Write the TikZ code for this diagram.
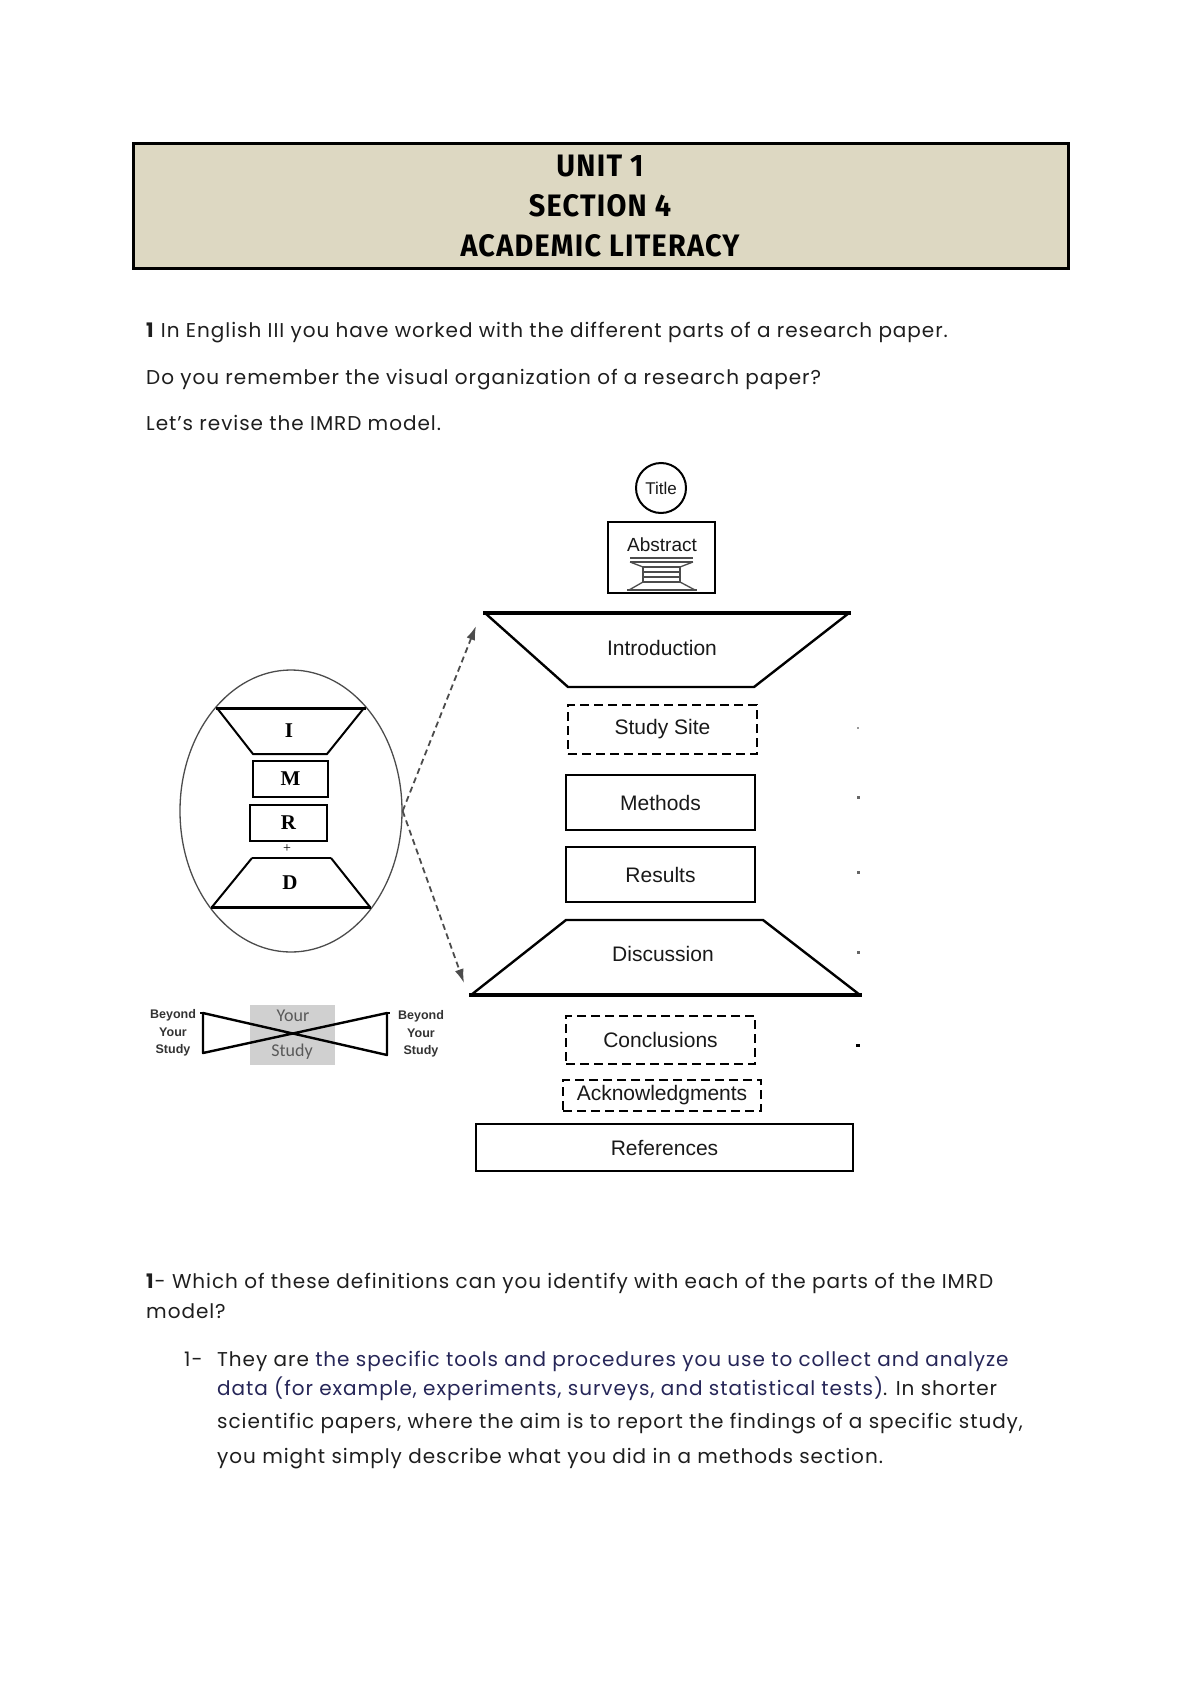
\documentclass[tikz,border=0pt]{standalone}
\usepackage{fontspec}
\setmainfont{Poppins}[LetterSpace=4.8]
\newfontfamily\dgfont{Liberation Sans}
\newfontfamily\hdfont[FakeStretch=0.93,LetterSpace=4]{Fira Sans}
\newfontfamily\sefont{Liberation Serif}
\newfontfamily\cafont{Carlito}
\usetikzlibrary{shapes.geometric,arrows.meta}
\definecolor{headfill}{RGB}{221,216,194}
\definecolor{navy}{RGB}{38,38,88}
\definecolor{ink}{RGB}{30,30,30}
\definecolor{shade}{RGB}{208,208,208}
\tikzset{
  body/.style={anchor=base west, inner sep=0pt, text=ink, font=\fontsize{20}{24}\selectfont},
  hd/.style={inner sep=0pt, font=\hdfont\bfseries\fontsize{31}{36}\selectfont},
  dg/.style={inner sep=0pt, text=black!90, font=\dgfont\fontsize{21}{25}\selectfont},
  solidbox/.style={draw, line width=2.6pt, inner sep=0pt},
  dashbox/.style={draw, line width=2.4pt, dash pattern=on 9pt off 5pt, inner sep=0pt},
  edge/.style={line width=2.4pt, line join=round},
  thickedge/.style={line width=3.8pt},
  ltr/.style={inner sep=0pt, font=\sefont\bfseries\fontsize{21}{25}\selectfont},
  arr/.style={line width=1.8pt, black!70, dash pattern=on 6pt off 4pt, -{Latex[length=14pt,width=9pt]}},
  small/.style={inner sep=0pt, align=center, text=black!80, font=\dgfont\bfseries\fontsize{12.5}{17.5}\selectfont},
  yours/.style={inner sep=0pt, text=black!65, font=\cafont\fontsize{18}{20}\selectfont},
  speck/.style={fill=black!60, inner sep=0pt, minimum size=3pt}
}
\begin{document}
\begin{tikzpicture}[x=1pt,y=-1pt]
\useasboundingbox (0,0) rectangle (1200,1696);
\fill[white] (0,0) rectangle (1200,1696);

% header
\node[draw, line width=3pt, fill=headfill, minimum width=935pt, minimum height=124pt] (hdr) at (600.5,206) {};
\node[hd] (h1) at (600,166) {UNIT 1};
\node[hd] (h2) at (600,206) {SECTION 4};
\node[hd] (h3) at (600,246) {ACADEMIC LITERACY};

% intro text
\node[body] (t1) at (146,337) {\textbf{1} In English III you have worked with the different parts of a research paper.};
\node[body] (t2) at (146,384) {Do you remember the visual organization of a research paper?};
\node[body] (t3) at (146,430) {Let’s revise the IMRD model.};

% title & abstract
\node[draw, circle, line width=2pt, minimum size=50pt, inner sep=0pt, dg, font=\dgfont\fontsize{17}{20}\selectfont] (title) at (661,488) {Title};
\node[solidbox, line width=2.4pt, minimum width=107pt, minimum height=71pt] (abs) at (661.5,557.5) {};
\node[dg, font=\dgfont\fontsize{19}{22}\selectfont] (abst) at (662,545) {Abstract};
\begin{scope}[line width=1.3pt, black!70]
  \draw (630,558) -- (693,558);
  \draw (630,562) -- (693,562);
  \draw (630,562) -- (643,567) (693,562) -- (680,567);
  \draw (643,567) rectangle (680,582);
  \draw (643,572) -- (680,572) (643,577) -- (680,577);
  \draw (643,582) -- (629,590) (680,582) -- (695,590);
  \draw (627,590) -- (697,590);
\end{scope}

% Introduction trapezoid
\draw[edge] (485,613) -- (568,687) -- (754,687) -- (849,613);
\draw[thickedge] (483,613) -- (851,613);
\node[dg] (intro) at (662,648) {Introduction};

% boxes
\node[dashbox, minimum width=189pt, minimum height=49pt] (site) at (662.5,729.5) {};
\node[dg] at (site) {Study Site};
\node[solidbox, minimum width=189pt, minimum height=55pt] (meth) at (660.5,802.5) {};
\node[dg] at (meth) {Methods};
\node[solidbox, minimum width=189pt, minimum height=55pt] (res) at (660.5,874.5) {};
\node[dg] at (res) {Results};

% Discussion trapezoid
\draw[edge] (471,995) -- (566,920) -- (763,920) -- (860,995);
\draw[thickedge] (469,995) -- (862,995);
\node[dg] (disc) at (663,954) {Discussion};

\node[dashbox, minimum width=189pt, minimum height=48pt] (conc) at (660.5,1040) {};
\node[dg] at (conc) {Conclusions};
\node[dashbox, minimum width=198pt, minimum height=31pt] (ack) at (662,1095.5) {};
\node[dg] at (ack) {Acknowledgments};
\node[solidbox, minimum width=377pt, minimum height=47pt] (refs) at (664.5,1147.5) {};
\node[dg] at (refs) {References};

% specks
\node[speck, minimum size=2pt, fill=black!40] (s1) at (858,728) {};
\node[speck] (s2) at (858,797) {};
\node[speck] (s3) at (858,872) {};
\node[speck] (s4) at (858,952) {};
\node[speck, fill=black, minimum width=4pt, minimum height=3pt] (s5) at (858,1045) {};

% IMRD ellipse
\node[draw, ellipse, line width=1.3pt, black!70, minimum width=222pt, minimum height=282pt, inner sep=0pt] (imrd) at (291,811) {};
\draw[line width=2pt] (217,708) -- (253,754) -- (327,754) -- (364,708);
\draw[line width=3pt] (216,708) -- (366,708);
\node[ltr] at (289,731) {I};
\node[draw, line width=2pt, minimum width=75pt, minimum height=36pt, inner sep=0pt] (mb) at (290.5,779) {};
\node[ltr] at (mb) {M};
\node[draw, line width=2pt, minimum width=77pt, minimum height=36pt, inner sep=0pt] (rb) at (288.5,823) {};
\node[ltr] at (rb) {R};
\node[inner sep=0pt, font=\sefont\fontsize{14}{14}\selectfont] (plus) at (287,849) {+};
\draw[line width=2pt] (252,858) -- (212,907) (331,858) -- (370,907);
\draw[line width=1.6pt] (252,858) -- (331,858);
\draw[line width=3pt] (211,907) -- (371,907);
\node[ltr] at (290,883) {D};

% arrows
\coordinate (itip) at (476,626);
\coordinate (dtip) at (464,983);
\draw[arr] (imrd.east) -- (itip);
\draw[arr] (imrd.east) -- (dtip);

% beyond / your study
\node[fill=shade, minimum width=85pt, minimum height=60pt, inner sep=0pt] (ys) at (292.5,1035) {};
\node[yours] (your) at (293,1016) {Your};
\node[yours] (study) at (292,1052) {Study};
\draw[line width=2.4pt, line join=round] (203,1013) -- (387,1055) -- (387,1013) -- (203,1053) -- cycle;
\draw[line width=2pt] (200,1013) -- (203,1013) (387,1013) -- (390,1013);
\node[small] (bl) at (173,1033) {Beyond\\Your\\Study};
\node[small] (br) at (421,1034) {Beyond\\Your\\Study};

% question text
\node[body] (q1) at (146,1288) {\textbf{1}- Which of these definitions can you identify with each of the parts of the IMRD};
\node[body] (q2) at (146,1318) {model?};
\node[body] (n1) at (184,1366) {1-};
\node[body] (d1) at (217,1366) {They are \textcolor{navy}{the specific tools and procedures you use to collect and analyze}};
\node[body, text=navy] (d2) at (217,1395) {data (for example, experiments, surveys, and statistical tests)\textcolor{ink}{. In shorter}};
\node[body] (d3) at (217,1428) {scientific papers, where the aim is to report the findings of a specific study,};
\node[body] (d4) at (217,1463) {you might simply describe what you did in a methods section.};
\end{tikzpicture}
\end{document}
